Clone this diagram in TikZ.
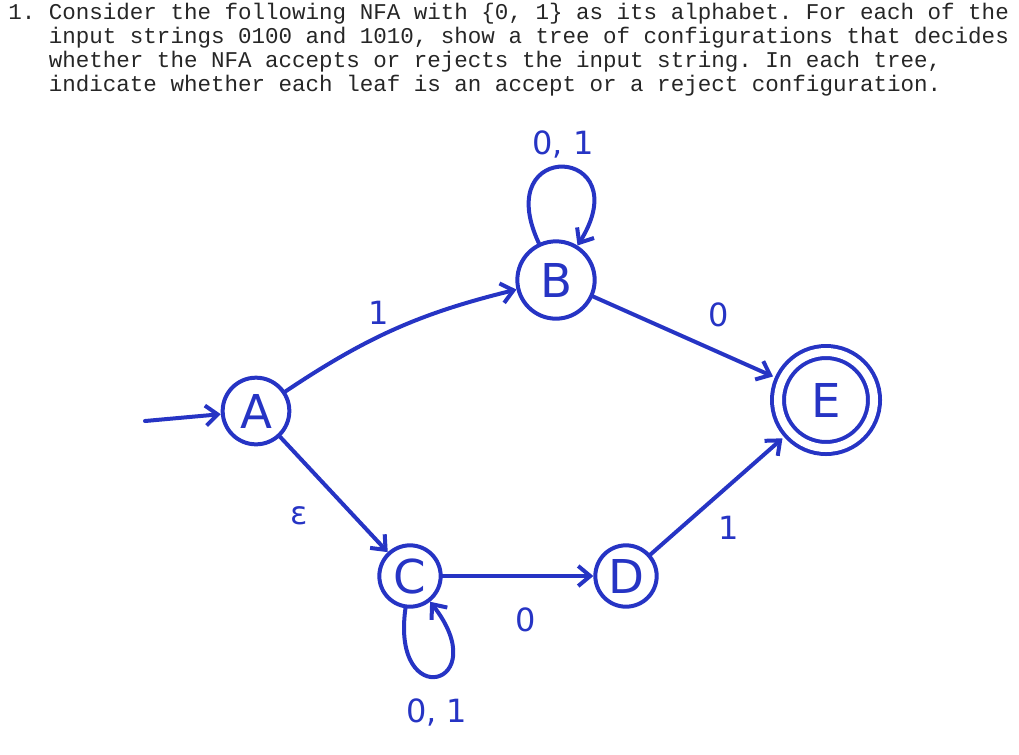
\documentclass[tikz,border=0pt]{standalone}
\usepackage{fontspec}
\setmonofont{Liberation Mono}
\newfontfamily\handfont{DejaVu Sans}
\usetikzlibrary{arrows.meta}
\definecolor{ink}{RGB}{38,52,196}
\tikzset{
  every picture/.style={font={\handfont}, >={Straight Barb[length=9pt, width=15pt]}},
  every label node/.style={text=ink}}

\begin{document}
\begin{tikzpicture}[x=0.75pt, y=0.75pt]
    \tikzstyle{state}=[circle, draw=ink, line width=3pt, inner sep=0pt, text=ink,
      font=\handfont\fontsize{35}{35}\selectfont]
    \tikzstyle{trans}=[draw=ink, line width=3pt, line cap=round, ->]
    \tikzstyle{lbl}=[text=ink, inner sep=0pt, font=\handfont\fontsize{24}{24}\selectfont]

    \useasboundingbox (0,0) rectangle (1019,-754);

    \node[anchor=north west, inner sep=0pt, align=left, text=black!85,
      font=\ttfamily\fontsize{16.9}{18}\selectfont] (Q) at (8,-3)
      {1. Consider the following NFA with \{0, 1\} as its alphabet. For each of the\\
       \phantom{1.\ }input strings 0100 and 1010, show a tree of configurations that decides\\
       \phantom{1.\ }whether the NFA accepts or rejects the input string. In each tree,\\
       \phantom{1.\ }indicate whether each leaf is an accept or a reject configuration.};

    \begin{scope}
      \node[state, minimum size=50pt] (A) at (256,-411) {A};
      \node[state, minimum size=58pt] (B) at (556,-280) {B};
      \node[state, minimum size=46pt] (C) at (410,-576) {C};
      \node[state, minimum size=46pt] (D) at (626,-576) {D};
      \node[state, minimum size=72pt, double, double distance=6pt] (E) at (826,-400) {E};
    \end{scope}

    \coordinate (start) at (145,-421);

    \begin{scope}
      \draw[trans] (start) to (A);
      \draw[trans] (A) to[bend left=10] node[lbl, pos=0.42, yshift=18pt] {1} (B);
      \draw[trans, shorten >=6pt] (B) to node[lbl, pos=0.67, yshift=28pt] {0} (E);
      \draw[trans] (A) to node[lbl, pos=0.6, xshift=-34pt, yshift=-7pt] {ε} (C);
      \draw[trans] (C) to node[lbl, pos=0.55, yshift=-33pt] {0} (D);
      \draw[trans, shorten >=6pt] (D) to node[lbl, pos=0.55, xshift=2pt, yshift=-30pt] {1} (E);
    \end{scope}

    \draw[trans] (B) to[out=115, in=58, distance=88pt] node[lbl, yshift=17pt] {0, 1} (B);
    \draw[trans] (C) to[out=-98, in=-52, distance=80pt] node[lbl, yshift=-27pt] {0, 1} (C);
\end{tikzpicture}
\end{document}
